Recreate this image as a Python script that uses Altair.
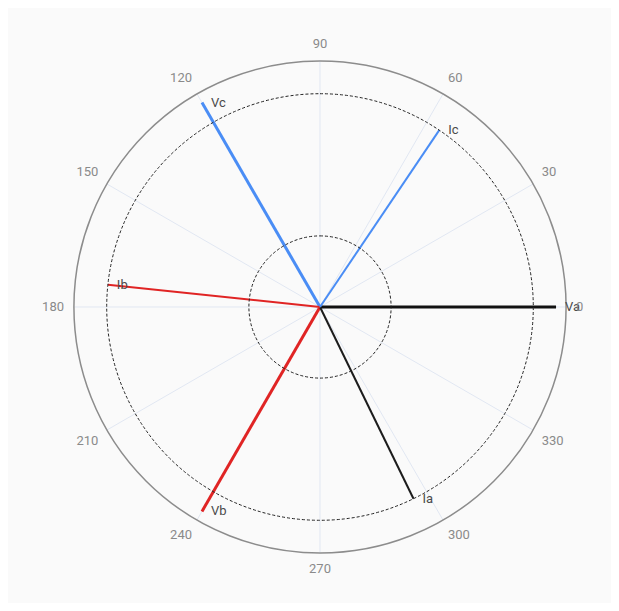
import altair as alt
import pandas as pd

# ---- data ----
phasor_names = ["Va", "Vb", "Vc", "Ia", "Ib", "Ic"]
phasor_groups = ["V", "V", "V", "I", "I", "I"]
phasor_magnitudes = [3.32, 3.32, 3.32, 3.0, 3.0, 3.0]
phasor_angles = [0, 240, 120, -64, 174, 56]

ring_radii = [1.0, 3.0]          # dashed reference circles
radial_max = 3.46                # outer circle

angle_ticks = [0, 30, 60, 90, 120, 150, 180, 210, 240, 270, 300, 330]
angle_tick_labels = ["0", "30", "60", "90", "120", "150", "180", "210", "240", "270", "300", "330"]

# ---- styles ----
phase_colors = ["#111111", "#e02424", "#4a8df5", "#1c1c1c", "#e02424", "#4a8df5"]
PLOT = 492
FONT = "Roboto"

phasors = pd.DataFrame({"name": phasor_names, "group": phasor_groups,
                        "mag": phasor_magnitudes, "ang": phasor_angles})
ticks = pd.DataFrame({"ang": angle_ticks, "label": angle_tick_labels})
rings = pd.DataFrame({"r": ring_radii})
outer = pd.DataFrame({"r": [radial_max]})

xs = alt.Scale(domain=[-radial_max, radial_max], nice=False, zero=False)
ys = alt.Scale(domain=[-radial_max, radial_max], nice=False, zero=False)
rs = alt.Scale(type="linear", domain=[0, radial_max], range=[0, PLOT / 2], zero=True)

# spokes
spokes = alt.Chart(ticks).transform_calculate(
    x0="0", y0="0",
    x1=f"{radial_max}*cos(datum.ang*PI/180)",
    y1=f"{radial_max}*sin(datum.ang*PI/180)",
).mark_rule(color="#e1e7f2", strokeWidth=1).encode(
    x=alt.X("x0:Q", scale=xs, axis=None),
    y=alt.Y("y0:Q", scale=ys, axis=None),
    x2="x1:Q", y2="y1:Q",
)

# outer circle
outer_circle = alt.Chart(outer).mark_arc(
    theta=0, theta2=6.2832, fill="transparent", stroke="#8c8c8c", strokeWidth=1.5
).encode(radius=alt.Radius("r:Q", scale=rs, stack=None))

# dashed rings
dashed = alt.Chart(rings).mark_arc(
    theta=0, theta2=6.2832, fill="transparent", stroke="#222222",
    strokeWidth=1, strokeDash=[3, 2]
).encode(radius=alt.Radius("r:Q", scale=rs, stack=None))

base = alt.Chart(phasors).transform_calculate(
    x0="0", y0="0",
    xe="datum.mag*cos(datum.ang*PI/180)",
    ye="datum.mag*sin(datum.ang*PI/180)",
)
color = alt.Color("name:N", scale=alt.Scale(domain=phasor_names, range=phase_colors), legend=None)

v_lines = base.transform_filter("datum.group == 'V'").mark_rule(strokeWidth=3).encode(
    x=alt.X("x0:Q", scale=xs, axis=None), y=alt.Y("y0:Q", scale=ys, axis=None),
    x2="xe:Q", y2="ye:Q", color=color)
i_lines = base.transform_filter("datum.group == 'I'").mark_rule(strokeWidth=2).encode(
    x=alt.X("x0:Q", scale=xs, axis=None), y=alt.Y("y0:Q", scale=ys, axis=None),
    x2="xe:Q", y2="ye:Q", color=color)

names = base.mark_text(align="left", baseline="middle", dx=9, fontSize=13,
                       font=FONT, color="#4a4a4a").encode(
    x=alt.X("xe:Q", scale=xs, axis=None), y=alt.Y("ye:Q", scale=ys, axis=None),
    text="name:N")

# angular tick labels, alignment depends on angle
rt = radial_max * 256 / 246
tick_layers = []
combos = [
    ("left", "middle", "cos(datum.ang*PI/180) > 0.1 && abs(sin(datum.ang*PI/180)) <= 0.1"),
    ("left", "bottom", "cos(datum.ang*PI/180) > 0.1 && sin(datum.ang*PI/180) > 0.1"),
    ("center", "bottom", "abs(cos(datum.ang*PI/180)) <= 0.1 && sin(datum.ang*PI/180) > 0.1"),
    ("right", "bottom", "cos(datum.ang*PI/180) < -0.1 && sin(datum.ang*PI/180) > 0.1"),
    ("right", "middle", "cos(datum.ang*PI/180) < -0.1 && abs(sin(datum.ang*PI/180)) <= 0.1"),
    ("right", "top", "cos(datum.ang*PI/180) < -0.1 && sin(datum.ang*PI/180) < -0.1"),
    ("center", "top", "abs(cos(datum.ang*PI/180)) <= 0.1 && sin(datum.ang*PI/180) < -0.1"),
    ("left", "top", "cos(datum.ang*PI/180) > 0.1 && sin(datum.ang*PI/180) < -0.1"),
]
for al, bl, cond in combos:
    tick_layers.append(
        alt.Chart(ticks).transform_filter(cond).transform_calculate(
            tx=f"{rt}*cos(datum.ang*PI/180)",
            ty=f"{rt}*sin(datum.ang*PI/180)",
        ).mark_text(align=al, baseline=bl, fontSize=13, font=FONT, color="#8a8a8a").encode(
            x=alt.X("tx:Q", scale=xs, axis=None), y=alt.Y("ty:Q", scale=ys, axis=None),
            text="label:N")
    )

chart = alt.layer(spokes, outer_circle, v_lines, i_lines, dashed, names, *tick_layers).properties(
    width=PLOT, height=PLOT,
    background="#fafafa",
    autosize=alt.AutoSizeParams(type="none"),
    padding={"left": 66, "top": 53, "right": 45, "bottom": 50},
).configure_view(stroke=None)

chart.save("out.html", embed_options={"renderer": "svg", "actions": False})
